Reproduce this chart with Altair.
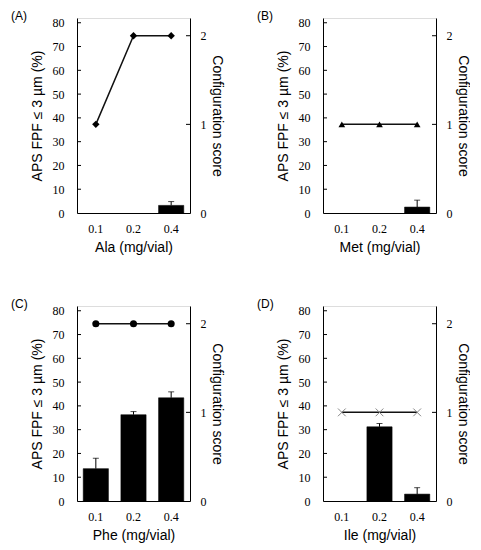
import altair as alt
import pandas as pd

doses = ["0.1", "0.2", "0.4"]

ala_fpf = [None, None, 3.2]
ala_err = [None, None, 4.8]
ala_score = [1, 2, 2]

met_fpf = [None, None, 2.5]
met_err = [None, None, 5.4]
met_score = [1, 1, 1]

phe_fpf = [13.6, 36.3, 43.4]
phe_err = [18.0, 37.6, 45.9]
phe_score = [2, 2, 2]

ile_fpf = [None, 31.2, 2.9]
ile_err = [None, 32.6, 5.6]
ile_score = [1, 1, 1]

fpf_ticks = [10, 20, 30, 40, 50, 60, 70, 80]
score_ticks = [1, 2]

W, H = 113, 195


def left_y(field):
    return alt.Y(field, scale=alt.Scale(domain=[0, 82], nice=False, zero=True),
                 axis=alt.Axis(title="APS FPF ≤ 3 µm (%)", values=list(range(0, 81, 10)),
                               grid=False, ticks=False, labelOverlap=False, labelFont="Liberation Serif",
                               labelFontSize=12, labelPadding=13, titleFont="Liberation Sans",
                               titleFontSize=14, titleFontWeight="normal", titlePadding=8,
                               domainColor="black", labelColor="black", titleColor="black"))


def right_y(field):
    return alt.Y(field, scale=alt.Scale(domain=[0, 2.2], nice=False, zero=True),
                 axis=alt.Axis(title="Configuration  score", orient="right", values=[0, 1, 2],
                               format="d", grid=False, ticks=False, labelOverlap=False,
                               labelFont="Liberation Serif",
                               labelFontSize=12, labelPadding=10, titleFont="Liberation Sans",
                               titleFontSize=14, titleFontWeight="normal", titlePadding=3,
                               titleAngle=90, domainColor="black", labelColor="black",
                               titleColor="black"))


def panel(letter, name, fpf, err, score, shape, point_color, point_size, filled=True):
    df = pd.DataFrame({"dose": doses, "fpf": fpf, "err": err, "score": score})

    x = alt.X("dose:N", sort=doses,
              scale=alt.Scale(paddingInner=0.33, paddingOuter=0.165),
              axis=alt.Axis(title=f"{name} (mg/vial)", labelAngle=0, ticks=False,
                            labelFont="Liberation Serif", labelFontSize=12, labelPadding=10,
                            titleFont="Liberation Sans", titleFontSize=14, titleFontWeight="normal",
                            titlePadding=6, domainColor="black", labelColor="black", titleColor="black"))

    bars = alt.Chart(df).mark_bar(color="black", stroke="black", strokeWidth=0.5).encode(
        x=x, y=left_y("fpf:Q"))
    stems = alt.Chart(df).mark_rule(color="black", strokeWidth=1).encode(
        x=x, y=left_y("fpf:Q"), y2="err:Q")
    caps = alt.Chart(df).mark_tick(color="black", size=6, thickness=1).encode(
        x=x, y=left_y("err:Q"))
    lticks = alt.Chart(pd.DataFrame({"fpf": fpf_ticks})).mark_rule(color="black").encode(
        y=left_y("fpf:Q"), x=alt.value(0), x2=alt.value(4))
    left = alt.layer(bars, stems, caps, lticks)

    line = alt.Chart(df).mark_line(color="#111", strokeWidth=1.5).encode(x=x, y=right_y("score:Q"))
    pts = alt.Chart(df).mark_point(shape=shape, filled=filled, size=point_size, opacity=1,
                                   color=point_color, strokeWidth=1).encode(x=x, y=right_y("score:Q"))
    rticks = alt.Chart(pd.DataFrame({"score": score_ticks})).mark_rule(color="black").encode(
        y=right_y("score:Q"), x=alt.value(W - 4), x2=alt.value(W))
    right = alt.layer(line, pts, rticks)

    tag = alt.Chart(pd.DataFrame({"tag": [f"({letter})"]})).mark_text(
        align="left", baseline="middle", font="Liberation Sans", fontSize=12, color="black"
    ).encode(x=alt.value(-66), y=alt.value(-2), text="tag:N")

    return alt.layer(left, right, tag).resolve_scale(y="independent").properties(width=W, height=H)


a = panel("A", "Ala", ala_fpf, ala_err, ala_score, "diamond", "black", 55)
b = panel("B", "Met", met_fpf, met_err, met_score, "triangle-up", "black", 45)
c = panel("C", "Phe", phe_fpf, phe_err, phe_score, "circle", "black", 50)
d = panel("D", "Ile", ile_fpf, ile_err, ile_score, "M-1,-1L1,1M1,-1L-1,1", "#888", 60, filled=False)

chart = alt.vconcat(
    alt.hconcat(a, b, spacing=32),
    alt.hconcat(c, d, spacing=32),
    spacing=42,
).configure_view(stroke=None).configure(background="white", padding={"left": 2, "top": 1, "right": 0, "bottom": 0})

chart.save("out.html", embed_options={"renderer": "svg", "actions": False})
